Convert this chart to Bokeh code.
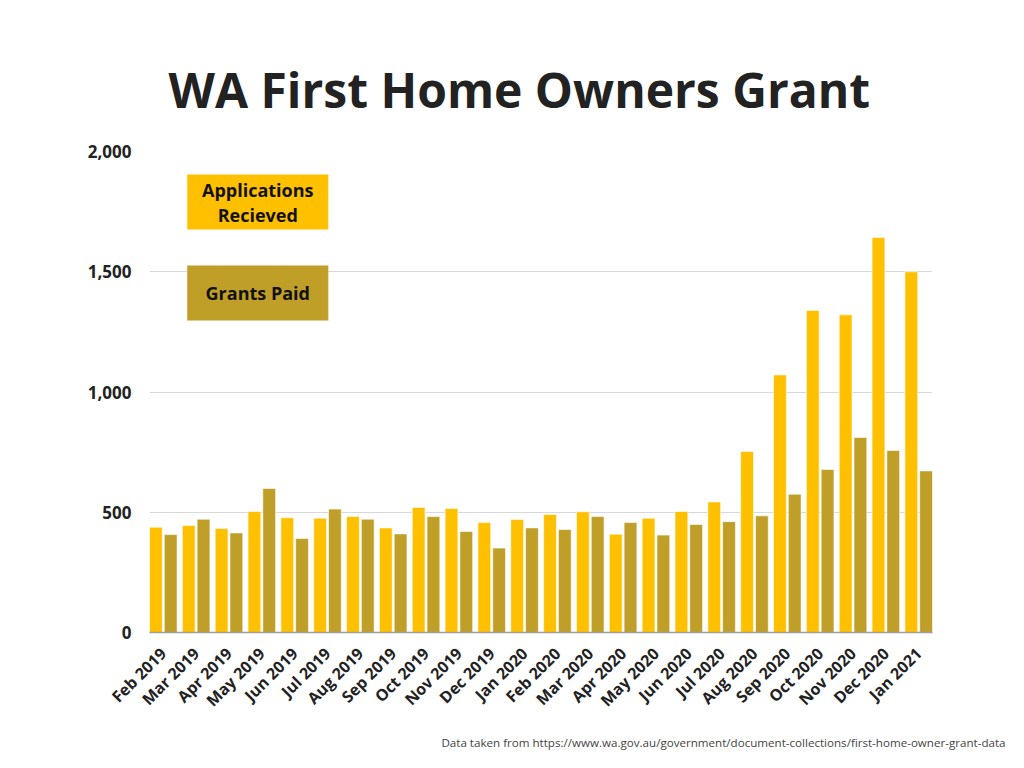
import numpy as np
from bokeh.plotting import figure
from bokeh.models import (ColumnDataSource, Range1d, FixedTicker, NumeralTickFormatter,
                          BoxAnnotation, Label, Title)
from bokeh.transform import dodge
from bokeh.embed import file_html
from bokeh.resources import INLINE

months = ["Feb 2019", "Mar 2019", "Apr 2019", "May 2019", "Jun 2019", "Jul 2019",
          "Aug 2019", "Sep 2019", "Oct 2019", "Nov 2019", "Dec 2019", "Jan 2020",
          "Feb 2020", "Mar 2020", "Apr 2020", "May 2020", "Jun 2020", "Jul 2020",
          "Aug 2020", "Sep 2020", "Oct 2020", "Nov 2020", "Dec 2020", "Jan 2021"]
applications = [438, 445, 432, 503, 477, 475, 482, 435, 520, 516, 457, 470,
                491, 502, 409, 475, 503, 543, 753, 1071, 1339, 1321, 1642, 1500]
grants = [407, 471, 414, 599, 391, 513, 471, 410, 482, 420, 351, 435,
          428, 482, 457, 405, 449, 461, 485, 575, 678, 811, 757, 672]
y_ticks = [0, 500, 1000, 1500, 2000]

APP_COLOR = "#FFC000"
GRANT_COLOR = "#BF9F28"
FONT = "Open Sans"

idx = list(range(len(months)))
src = ColumnDataSource(dict(x=idx, app=applications, grant=grants))

p = figure(width=1008, height=762, output_backend="svg", toolbar_location=None,
           x_range=Range1d(-0.42, len(months) - 1 + 0.42), y_range=Range1d(0, 2000),
           min_border_left=149, min_border_right=76, min_border_top=151,
           min_border_bottom=130, outline_line_color=None, background_fill_color="white",
           border_fill_color="white")

p.title.text = "WA First Home Owners Grant"
p.title.align = "left"
p.title.offset = 19
p.title.standoff = 60
p.title.text_font = FONT
p.title.text_font_style = "bold"
p.title.text_font_size = "48px"
p.title.text_color = "#222222"

p.vbar(x=dodge("x", -0.225, range=p.x_range), top="app", width=0.39, source=src,
       fill_color=APP_COLOR, line_color="white", line_alpha=0.6, line_width=1)
p.vbar(x=dodge("x", 0.225, range=p.x_range), top="grant", width=0.39, source=src,
       fill_color=GRANT_COLOR, line_color="white", line_alpha=0.6, line_width=1)

# axes
p.xgrid.grid_line_color = None
p.ygrid.grid_line_color = "#d9d9d9"
p.ygrid.grid_line_width = 1

p.yaxis.ticker = FixedTicker(ticks=y_ticks)
p.yaxis.formatter = NumeralTickFormatter(format="0,0")
p.yaxis.axis_line_color = None
p.yaxis.major_tick_line_color = None
p.yaxis.minor_tick_line_color = None
p.yaxis.major_label_text_font = FONT
p.yaxis.major_label_text_font_style = "bold"
p.yaxis.major_label_text_font_size = "17px"
p.yaxis.major_label_text_color = "#222222"
p.yaxis.major_label_standoff = 12

p.xaxis.ticker = FixedTicker(ticks=idx)
p.xaxis.major_label_overrides = {i: m for i, m in zip(idx, months)}
p.xaxis.major_label_orientation = np.pi / 4
p.xaxis.axis_line_color = "#9e9e9e"
p.xaxis.axis_line_width = 1.5
p.xaxis.major_tick_line_color = None
p.xaxis.minor_tick_line_color = None
p.xaxis.major_label_text_font = FONT
p.xaxis.major_label_text_font_style = "bold"
p.xaxis.major_label_text_font_size = "16px"
p.xaxis.major_label_text_color = "#222222"
p.xaxis.major_label_standoff = 12

# legend boxes
p.add_layout(BoxAnnotation(left=0.728, right=5.023, bottom=1676, top=1904,
                           fill_color=APP_COLOR, fill_alpha=1, line_color="#FFE08A",
                           line_width=1))
p.add_layout(BoxAnnotation(left=0.728, right=5.023, bottom=1297, top=1526,
                           fill_color=GRANT_COLOR, fill_alpha=1, line_color="#DCC98A",
                           line_width=1))
for txt, yy in [("Applications", 1838), ("Recieved", 1738), ("Grants Paid", 1410)]:
    p.add_layout(Label(x=2.876, y=yy, text=txt, text_align="center",
                       text_baseline="alphabetic", text_font=FONT,
                       text_font_style="bold", text_font_size="18px",
                       text_color="#111111"))

# footer
footer = Title(text="Data taken from https://www.wa.gov.au/government/document-collections/first-home-owner-grant-data",
               align="right", offset=-73, standoff=23, text_font=FONT,
               text_font_style="normal", text_font_size="11.6px", text_color="#444444")
p.add_layout(footer, "below")

open("out.html", "w").write(file_html(p, INLINE))
